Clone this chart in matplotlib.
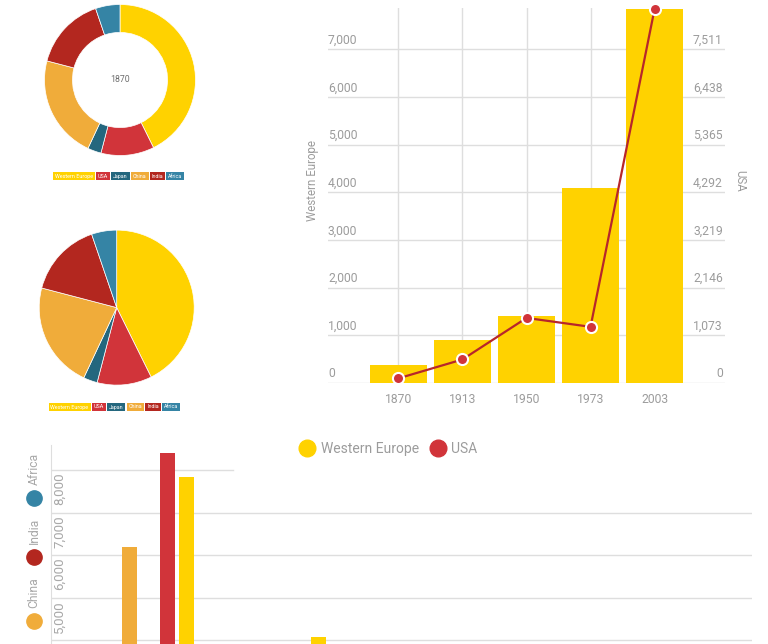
import numpy as np
import matplotlib
matplotlib.use('Agg')
import matplotlib.pyplot as plt
from matplotlib.lines import Line2D

plt.rcParams['font.family'] = ['Roboto', 'DejaVu Sans']

# data
regions = ['Western Europe', 'USA', 'Japan', 'China', 'India', 'Africa']
region_colors = ['#ffd200', '#d1343a', '#24677e', '#f0ac3a', '#b3271f', '#3584a5']
gdp_1870 = [367, 98, 25, 190, 135, 45]

years = ['1870', '1913', '1950', '1973', '2003']
we_bars = [370, 910, 1400, 4090, 7850]
usa_line = [105, 530, 1465, 1265, 8420]

we_all = [367, 902, 1396, 4070, 7835]
usa_all = [98, 517, 1456, 3537, 8400]
japan_all = [25, 72, 161, 1243, 2699]
china_all = [190, 241, 245, 740, 6190]
india_all = [135, 204, 222, 495, 2267]
africa_all = [45, 79, 203, 549, 1322]

W, H = 768, 644
GRAY = '#9c9c9c'
GRID = '#dedede'
fig = plt.figure(figsize=(W / 100, H / 100), dpi=100)


def box(x0, y0, x1, y1):
    return [x0 / W, 1 - y1 / H, (x1 - x0) / W, (y1 - y0) / H]


def fxy(x, y):
    return x / W, 1 - y / H


renderer = fig.canvas.get_renderer()

# ---- donut + pie (1870) ----
def tags(x0, yc):
    x = x0
    for name, c in zip(regions, region_colors):
        t = fig.text(*fxy(x, yc), name, fontsize=3.9, color='white', ha='left', va='center',
                     bbox=dict(boxstyle='square,pad=0.35', fc=c, ec='none'))
        bb = t.get_window_extent(renderer)
        x += bb.width + 5


axd = fig.add_axes(box(44.5, 4.5, 195.5, 155.5))
axd.pie(gdp_1870, colors=region_colors, startangle=90, counterclock=False, radius=1,
        wedgeprops=dict(width=0.37, edgecolor='white', linewidth=0.5))
axd.set_xlim(-1, 1)
axd.set_ylim(-1, 1)
axd.text(0, 0, '1870', ha='center', va='center', fontsize=6.3, color='#6f6f6f')
tags(55, 176)

axp = fig.add_axes(box(39.2, 230.1, 194.2, 385.1))
axp.pie(gdp_1870, colors=region_colors, startangle=90, counterclock=False, radius=1,
        wedgeprops=dict(edgecolor='white', linewidth=0.5))
axp.set_xlim(-1, 1)
axp.set_ylim(-1, 1)
tags(50.5, 407)

# ---- bars + line ----
ax = fig.add_axes(box(328, 8, 725, 383))
x = np.arange(len(years))
ax.bar(x, we_bars, width=0.89, color=region_colors[0], zorder=2)
ax.set_xlim(-1.1, 5.1)
ax.set_ylim(0, 7870)
left_ticks = list(range(0, 8000, 1000))
ax.set_yticks(left_ticks)
ax.set_yticklabels([])
ax.set_xticks(x, years)
ax.tick_params(length=0, labelsize=8.7, labelcolor=GRAY, pad=7)
ax.grid(color=GRID, lw=1)
ax.set_axisbelow(True)
for s in ax.spines.values():
    s.set_visible(False)
for v in left_ticks:
    ax.annotate(f'{v:,}', (0, v), xycoords=ax.get_yaxis_transform(), xytext=(0, 2),
                textcoords='offset points', ha='left', va='bottom', fontsize=8.7, color=GRAY)
ax.set_ylabel('Western Europe', fontsize=8.3, color=GRAY)
ax.yaxis.set_label_coords(-0.022, 0.54)

ax2 = ax.twinx()
ax2.set_ylim(0, 7870 * 1.073)
ax2.plot(x, usa_line, color='#b7262b', lw=1.6, marker='o', ms=8, mfc='#d1343a',
         mec='white', mew=1.5, zorder=3, clip_on=False)
right_ticks = [i * 1073 for i in range(8)]
ax2.set_yticks(right_ticks)
ax2.set_yticklabels([])
ax2.tick_params(length=0)
for s in ax2.spines.values():
    s.set_visible(False)
for v in right_ticks:
    ax2.annotate(f'{v:,}', (1, v), xycoords=ax2.get_yaxis_transform(), xytext=(-1.5, 2),
                 textcoords='offset points', ha='right', va='bottom', fontsize=8.7, color=GRAY)
ax2.set_ylabel('USA', fontsize=8.3, color=GRAY, rotation=270, va='center')
ax2.yaxis.set_label_coords(1.038, 0.54)

handles = [Line2D([], [], ls='none', marker='o', ms=12, mfc=region_colors[0], mec=region_colors[0]),
           Line2D([], [], ls='none', marker='o', ms=12, mfc=region_colors[1], mec=region_colors[1])]
fig.legend(handles, ['Western Europe', 'USA'], loc='center left', bbox_to_anchor=fxy(288, 449),
           ncol=2, frameon=False, fontsize=10, labelcolor=GRAY, handlelength=1,
           handletextpad=0.5, columnspacing=0.8)

# ---- grouped bars (rotated look) ----
axb = fig.add_axes(box(51, 444.5, 752, 810))
axb.patch.set_alpha(0)
xb = np.arange(len(years))
slot_series = [africa_all, india_all, china_all, japan_all, usa_all, we_all]
slot_colors = [region_colors[5], region_colors[4], region_colors[3],
               region_colors[2], region_colors[1], region_colors[0]]
for k, (vals, c) in enumerate(zip(slot_series, slot_colors)):
    axb.bar(xb + (k - 2.5) * 0.144, vals[::-1], width=0.114, color=c, zorder=2)
axb.set_xlim(-0.667, 4.644)
axb.set_ylim(0, 8600)
axb.set_xticks([])
axb.set_yticks([])
for name, s in axb.spines.items():
    s.set_visible(name == 'left')
axb.spines['left'].set_color(GRID)
bottom_ticks = list(range(0, 9000, 1000))
for v in bottom_ticks:
    xmax = 0.26 if v == bottom_ticks[-1] else 1
    axb.axhline(v, xmin=0, xmax=xmax, color=GRID, lw=1, zorder=1)
    lbl = axb.annotate(f'{v:,}', (0, v), xycoords=axb.get_yaxis_transform(), xytext=(1.5, -2),
                       textcoords='offset points', ha='left', va='top', rotation=90,
                       fontsize=9.5, color='#a8a8a8')
    # the lower half of this chart lies below the canvas edge
    if lbl.get_window_extent(renderer).y0 < 0:
        lbl.remove()

y = 453
for name, c in zip(regions[::-1], region_colors[::-1]):
    if y > H - 8:
        break
    t = fig.text(*fxy(34, y), name, rotation=90, ha='center', va='top', fontsize=8.7, color='#a8a8a8')
    y += t.get_window_extent(renderer).height + 5.5 + 7.5
    fig.add_artist(Line2D([34 / W], [1 - y / H], marker='o', ms=11, mfc=c, mec=c, ls='none',
                          transform=fig.transFigure))
    y += 7.5 + 12.5

fig.savefig('out.png', dpi=100)
